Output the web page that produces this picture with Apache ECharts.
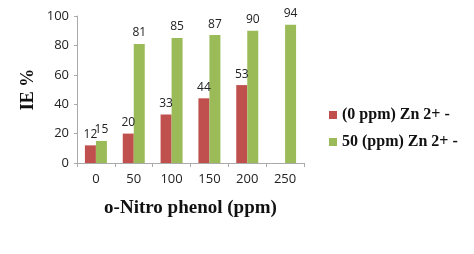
<!DOCTYPE html>
<html><head><meta charset="utf-8">
<script src="https://cdn.jsdelivr.net/npm/echarts@6/dist/echarts.min.js"></script>
<style>html,body{margin:0;padding:0;background:#fff}#c{width:474px;height:254px}</style>
</head><body><div id="c"></div>
<script>
var categories = ['0','50','100','150','200','250'];
var zn0 = [12, 20, 33, 44, 53, null];
var zn50 = [15, 81, 85, 87, 90, 94];
var seriesNames = ['(0 ppm) Zn 2+ -', '50 (ppm) Zn 2+ -'];
var chart = echarts.init(document.getElementById('c'));
var sans = 'Open Sans, Liberation Sans, Arial, sans-serif';
var serif = 'Liberation Serif, Times New Roman, serif';
var lbl = {show:true, position:'top', distance:5, color:'#222', fontSize:12, fontFamily:sans};
chart.setOption({
  animation:false,
  backgroundColor:'#fff',
  grid:{left:77, right:170, top:16, bottom:91},
  legend:{
    orient:'vertical', left:324, top:102, itemWidth:8, itemHeight:8, itemGap:11,
    icon:'rect',
    textStyle:{fontFamily:serif, fontWeight:'bold', fontSize:16, color:'#111'},
    data:seriesNames
  },
  xAxis:{
    type:'category', data:categories,
    name:'o-Nitro phenol (ppm)', nameLocation:'middle', nameGap:36,
    nameTextStyle:{fontFamily:serif, fontWeight:'bold', fontSize:19, color:'#111'},
    axisLine:{lineStyle:{color:'#aaa'}},
    axisTick:{show:true, alignWithLabel:false, length:4, lineStyle:{color:'#aaa'}},
    axisLabel:{color:'#222', fontSize:13, margin:10, fontFamily:sans}
  },
  yAxis:{
    type:'value', min:0, max:100, interval:20,
    name:'IE %', nameLocation:'middle', nameGap:40,
    nameTextStyle:{fontFamily:serif, fontWeight:'bold', fontSize:18, color:'#111'},
    axisLine:{show:true, lineStyle:{color:'#aaa'}},
    axisTick:{show:true, length:3, lineStyle:{color:'#aaa'}},
    splitLine:{show:false},
    axisLabel:{color:'#222', fontSize:13, margin:8, fontFamily:sans}
  },
  series:[
    {name:seriesNames[0], type:'bar', data:zn0, barWidth:11, barGap:'0%', itemStyle:{color:'#C0504D'}, label:lbl},
    {name:seriesNames[1], type:'bar', data:zn50, barWidth:11, barGap:'0%', itemStyle:{color:'#9BBB59'}, label:lbl}
  ]
});
</script></body></html>
